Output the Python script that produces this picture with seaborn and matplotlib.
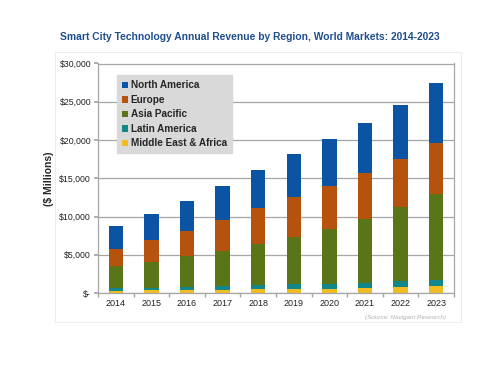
import numpy as np
import pandas as pd
import matplotlib
matplotlib.use("Agg")
import matplotlib.pyplot as plt
import seaborn as sns
from matplotlib.patches import Patch, Rectangle
from matplotlib.ticker import FuncFormatter, FixedLocator

years = ["2014", "2015", "2016", "2017", "2018", "2019", "2020", "2021", "2022", "2023"]
regions = ["North America", "Europe", "Asia Pacific", "Latin America", "Middle East & Africa"]
middle_east_africa = [300, 330, 330, 390, 480, 500, 520, 660, 790, 870]
latin_america = [350, 370, 410, 520, 560, 620, 680, 650, 740, 880]
asia_pacific = [2870, 3390, 4050, 4570, 5320, 6230, 7150, 8310, 9660, 11230]
europe = [2180, 2810, 3310, 4050, 4700, 5230, 5650, 6030, 6290, 6690]
north_america = [3050, 3450, 3870, 4430, 5000, 5570, 6100, 6550, 7120, 7730]
colors = {"North America": "#0B53A3", "Europe": "#B4520E", "Asia Pacific": "#5A7418",
          "Latin America": "#12878A", "Middle East & Africa": "#F1BC22"}
yticks = [0, 5000, 10000, 15000, 20000, 25000, 30000]

sns.set_theme(style="white")
plt.rcParams['font.family'] = ['Liberation Sans', 'DejaVu Sans']

# stack bottom-up: MEA, LA, AP, EU, NA
stack_order = ["Middle East & Africa", "Latin America", "Asia Pacific", "Europe", "North America"]
vals = {"Middle East & Africa": middle_east_africa, "Latin America": latin_america,
        "Asia Pacific": asia_pacific, "Europe": europe, "North America": north_america}
cum = np.cumsum([vals[r] for r in stack_order], axis=0)

fig = plt.figure(figsize=(5, 3.75), dpi=100)
fig.patch.set_facecolor("white")
# faint chart frame
fig.patches.append(Rectangle((55/500, 1-322/375), (461-55)/500, (322-52)/375,
                             transform=fig.transFigure, fill=False, ec="#EDEDED", lw=0.8))
ax = fig.add_axes([98/500, 1-293/375, (454-98)/500, (293-63.5)/375])

for i in range(len(stack_order)-1, -1, -1):
    r = stack_order[i]
    df = pd.DataFrame({"Year": years, "Value": cum[i]})
    sns.barplot(data=df, x="Year", y="Value", color=colors[r], width=0.4,
                saturation=1, ax=ax, errorbar=None, linewidth=0)

ax.set_ylim(0, 30000)
ax.set_xlim(-0.5, 9.5)
ax.set_yticks(yticks)
ax.yaxis.set_major_formatter(FuncFormatter(lambda v, p: "$-" if v == 0 else f"${int(v):,}"))
ax.yaxis.grid(True, color="#A6A6A6", lw=0.9)
ax.set_axisbelow(True)
for s in ax.spines.values():
    s.set_color("#A6A6A6")
    s.set_linewidth(0.9)
ax.tick_params(axis="y", labelsize=6.3, length=3, color="#A6A6A6", pad=2, left=True, labelcolor="#222222")
ax.tick_params(axis="x", which="major", labelsize=6.5, length=0, pad=4, labelcolor="#222222")
ax.xaxis.set_minor_locator(FixedLocator(np.arange(-0.5, 10, 1)))
ax.tick_params(axis="x", which="minor", length=3, color="#A6A6A6", bottom=True)
ax.set_xlabel("")
ax.set_ylabel("($ Millions)", fontsize=7.5, fontweight="bold", labelpad=4)

handles = [Patch(facecolor=colors[r], edgecolor="none", label=r) for r in regions]
leg = ax.legend(handles=handles, loc="upper left", bbox_to_anchor=(0.04, 0.97),
                frameon=True, fancybox=False, facecolor="#D9D9D9", edgecolor="#D9D9D9",
                framealpha=1, handlelength=0.55, handleheight=0.6, handletextpad=0.3,
                labelspacing=0.45, borderpad=0.5, prop={"size": 7.2, "weight": "bold"})

fig.text(0.5, 1-37/375, "Smart City Technology Annual Revenue by Region, World Markets: 2014-2023",
         ha="center", va="center", fontsize=7.4, fontweight="bold", color="#1F4E8C")
fig.text(446/500, 1-318/375, "(Source: Navigant Research)", ha="right", va="center",
         fontsize=4.5, style="italic", color="#B0B0B0")

fig.savefig("out.png", dpi=100, facecolor="white")
